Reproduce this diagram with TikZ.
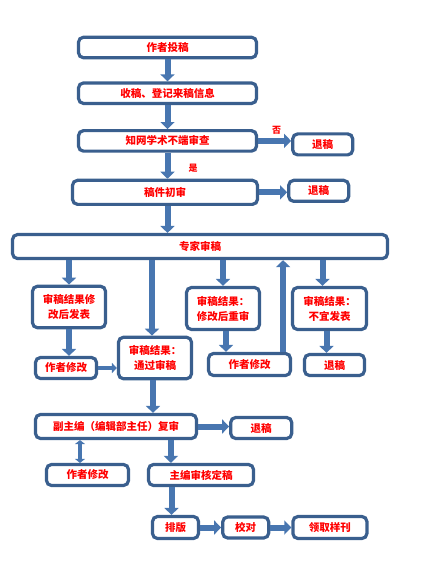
\documentclass[tikz,border=0pt]{standalone}
\usepackage{fontspec}
\newfontfamily\cjk{Noto Sans CJK SC}
\usepackage{tikz}
\usetikzlibrary{positioning,arrows.meta}

\definecolor{boxblue}{HTML}{3A5F8E}
\definecolor{arrowblue}{HTML}{4876B0}

\begin{document}
\begin{tikzpicture}[
        x=1pt, y=-1pt,
        box/.style={rectangle, draw=boxblue, line width=3.2pt, rounded corners=5pt, fill=white, text=red, align=center, inner sep=1pt,
            font={\cjk\bfseries\fontsize{10.5pt}{15pt}\selectfont}},
        wide/.style={box, minimum width=178pt, minimum height=20.5pt},
        small/.style={box, minimum width=60pt, minimum height=21pt},
        result/.style={box, minimum width=73pt, minimum height=41.5pt},
        fatarrow/.style={draw=arrowblue, line width=6pt, -{Triangle[width=14pt,length=7pt]}},
        thinarrow/.style={draw=arrowblue, line width=4pt, -{Triangle[width=10pt,length=5pt]}},
        lbl/.style={text=red, font={\cjk\bfseries\fontsize{9pt}{11pt}\selectfont}, inner sep=0pt}
    ]

        \useasboundingbox (0,0) rectangle (430,561);

        % --- Submission and checks ---
        \node (sub) [wide] at (167.5,47.5) {作者投稿};
        \node (reg) [wide, below=22pt of sub] {收稿、登记来稿信息};
        \node (chk) [wide, below=24pt of reg] {知网学术不端审查};
        \node (rej1) [small, right=33pt of chk, yshift=-3.5pt] {退稿};

        % --- First review ---
        \node (first) [box, minimum width=185pt, minimum height=24pt, below=26pt of chk, xshift=-2.5pt] {稿件初审};
        \node (rej2) [small, right=28pt of first, yshift=1.5pt] {退稿};

        % --- Expert review ---
        \node (expert) [box, minimum width=375pt, minimum height=24pt, below=27pt of first, xshift=35pt] {专家审稿};

        \node (resA) [result] at (69,307) {审稿结果修\\改后发表};
        \node (modA) [small, minimum width=61pt] at (66,368) {作者修改};
        \node (resB) [result] at (155,358) {审稿结果：\\通过审稿};
        \node (resC) [result, minimum height=42pt] at (223,308.5) {审稿结果：\\修改后重审};
        \node (modC) [small, minimum width=82pt, minimum height=22pt] at (249.5,364.5) {作者修改};
        \node (resD) [result, minimum width=74pt, minimum height=42pt] at (329.5,308.5) {审稿结果：\\不宜发表};
        \node (rej3) [small] at (334.5,365) {退稿};

        % --- Second review and final ---
        \node (deputy) [box, minimum width=161pt, minimum height=24pt] at (116,426.5) {副主编（编辑部主任）复审};
        \node (rej4) [small, minimum width=61pt, right=31pt of deputy, yshift=-1.5pt] {退稿};
        \node (modE) [small, minimum width=82pt] at (87.5,475) {作者修改};
        \node (chief) [small, minimum width=105pt] at (201,475) {主编审核定稿};
        \node (typeset) [small, minimum width=46pt, minimum height=22pt] at (175.5,527.5) {排版};
        \node (proof) [small, minimum width=46pt, right=21pt of typeset] {校对};
        \node (copies) [small, minimum width=74pt, minimum height=22pt, right=21pt of proof] {领取样刊};

        % --- Connections ---
        \draw [fatarrow] (sub) -- (reg);
        \draw [fatarrow] (reg) -- (chk);
        \draw [fatarrow] (chk.east) -- node[lbl, above=4pt, xshift=2pt] {否} (chk.east -| rej1.west);
        \draw [fatarrow] (chk.south) -- node[lbl, right=18pt, yshift=-2pt] {是} (chk.south |- first.north);
        \draw [fatarrow] (first.east) -- (first.east -| rej2.west);
        \draw [fatarrow] (chk.south |- first.south) -- (chk.south |- expert.north);

        \draw [fatarrow] (expert.south -| resA.north) -- (resA.north);
        \draw [fatarrow] ([xshift=-3pt]expert.south -| resB.north) -- ([xshift=-3pt]resB.north);
        \draw [fatarrow] (expert.south -| resC.north) -- (resC.north);
        \draw [fatarrow] ([xshift=-7pt]expert.south -| resD.north) -- ([xshift=-7pt]resD.north);

        \draw [fatarrow] (resA.south) -- (resA.south |- modA.north);
        \draw [fatarrow] ([xshift=3pt]resC.south) -- ([xshift=3pt]resC.south |- modC.north);
        \draw [fatarrow] ([xshift=-3pt]resD.south) -- ([xshift=-3pt]resD.south |- rej3.north);
        \draw [fatarrow] ([xshift=-9pt]modC.north east) -- ([xshift=-9pt]modC.north east |- expert.south);
        \draw [thinarrow] (modA.east) -- (modA.east -| resB.west);

        \draw [fatarrow] ([xshift=-2pt]resB.south) -- ([xshift=-2pt]resB.south |- deputy.north);
        \draw [fatarrow] (deputy.east) -- (deputy.east -| rej4.west);
        \draw [thinarrow, {Triangle[width=10pt,length=4pt]}-{Triangle[width=10pt,length=4pt]}]
            ([xshift=-7.5pt]modE.north |- deputy.south) -- ([xshift=-7.5pt]modE.north);
        \draw [fatarrow] ([xshift=24pt]chief.north west |- deputy.south) -- ([xshift=24pt]chief.north west);
        \draw [fatarrow] ([xshift=-4pt]typeset.north |- chief.south) -- ([xshift=-4pt]typeset.north);
        \draw [fatarrow] (typeset) -- (proof);
        \draw [fatarrow] (proof) -- (copies);

    \end{tikzpicture}
\end{document}
